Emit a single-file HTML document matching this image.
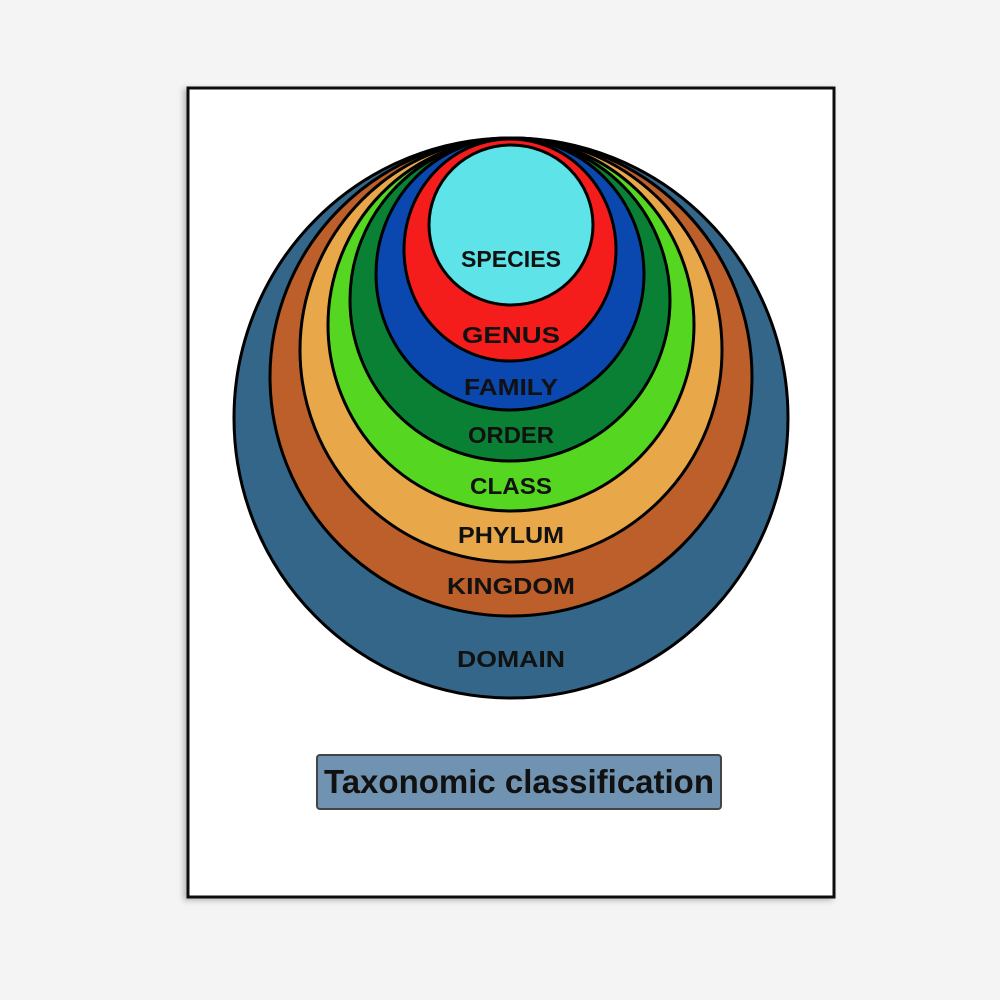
<!DOCTYPE html>
<html><head><meta charset="utf-8"><style>
html,body{margin:0;padding:0;background:#f4f4f4;width:1000px;height:1000px;overflow:hidden}
</style></head><body>
<svg width="1000" height="1000" viewBox="0 0 1000 1000" xmlns="http://www.w3.org/2000/svg">
<defs><filter id="sh" x="-10%" y="-10%" width="120%" height="120%"><feDropShadow dx="-3" dy="2" stdDeviation="3" flood-color="#000" flood-opacity="0.25"/></filter></defs>
<rect x="188" y="88" width="646" height="809" fill="#fff" stroke="#111" stroke-width="3" filter="url(#sh)"/>
<g stroke="#000" stroke-width="3">
<ellipse cx="511" cy="418" rx="277" ry="280" fill="#336688"/>
<ellipse cx="511" cy="377" rx="241" ry="239" fill="#bc5f2a"/>
<ellipse cx="511" cy="350" rx="211" ry="212" fill="#e8a84a"/>
<ellipse cx="511" cy="325" rx="183" ry="186" fill="#55d620"/>
<ellipse cx="510" cy="300" rx="160" ry="161" fill="#0a8035"/>
<ellipse cx="510" cy="274" rx="134" ry="136" fill="#0a48b0"/>
<ellipse cx="510" cy="250" rx="106" ry="111" fill="#f51c1c"/>
<ellipse cx="511" cy="225" rx="82" ry="80" fill="#5de3e8"/>
</g>
<g font-family="Liberation Sans, sans-serif" font-weight="bold" font-size="23" fill="#111" text-anchor="middle">
<text x="511" y="267" textLength="100" lengthAdjust="spacingAndGlyphs">SPECIES</text>
<text x="511" y="343" textLength="98" lengthAdjust="spacingAndGlyphs">GENUS</text>
<text x="511" y="395" textLength="94" lengthAdjust="spacingAndGlyphs">FAMILY</text>
<text x="511" y="443" textLength="86" lengthAdjust="spacingAndGlyphs">ORDER</text>
<text x="511" y="494" textLength="82" lengthAdjust="spacingAndGlyphs">CLASS</text>
<text x="511" y="543" textLength="106" lengthAdjust="spacingAndGlyphs">PHYLUM</text>
<text x="511" y="594" textLength="128" lengthAdjust="spacingAndGlyphs">KINGDOM</text>
<text x="511" y="667" textLength="108" lengthAdjust="spacingAndGlyphs">DOMAIN</text>
</g>
<rect x="317" y="755" width="404" height="54" rx="3" fill="#6f93b0" stroke="#444" stroke-width="2"/>
<text x="519" y="793" font-family="Liberation Sans, sans-serif" font-weight="bold" font-size="33" fill="#111" text-anchor="middle" textLength="390" lengthAdjust="spacingAndGlyphs">Taxonomic classification</text>
</svg>
</body></html>
